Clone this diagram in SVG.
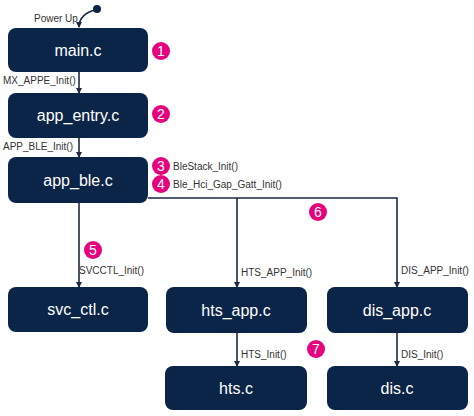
<svg xmlns="http://www.w3.org/2000/svg" width="474" height="416" viewBox="0 0 474 416">
<defs>
<marker id="ah" markerWidth="6" markerHeight="6" refX="5" refY="3" orient="auto" markerUnits="userSpaceOnUse">
<path d="M0,0 L6,3 L0,6 Z" fill="#1b2a44"/>
</marker>
<style>
.box{fill:#0b2548}
.bt{font-family:"Liberation Sans",Arial,sans-serif;font-size:16px;fill:#ffffff;text-anchor:middle}
.lbl{font-family:"Liberation Sans",Arial,sans-serif;font-size:10px;fill:#333333}
.bd{fill:#e5007d}
.bn{font-family:"Liberation Sans",Arial,sans-serif;font-size:14px;fill:#ffffff;text-anchor:middle}
.ln{stroke:#1b2a44;stroke-width:1.6;fill:none}
</style>
</defs>
<rect width="474" height="416" fill="#ffffff"/>
<g id="connectors">
<circle cx="97" cy="9" r="4" fill="#0b2548"/>
<path class="ln" d="M95,10 C86,12 79,18 79,27" marker-end="url(#ah)"/>
<line class="ln" x1="79" y1="72" x2="79" y2="93" marker-end="url(#ah)"/>
<line class="ln" x1="79" y1="138" x2="79" y2="157" marker-end="url(#ah)"/>
<line class="ln" x1="79" y1="203" x2="79" y2="287" marker-end="url(#ah)"/>
<polyline class="ln" points="148,198 397,198 397,287" marker-end="url(#ah)"/>
<line class="ln" x1="237" y1="198" x2="237" y2="287" marker-end="url(#ah)"/>
<line class="ln" x1="237" y1="333" x2="237" y2="366" marker-end="url(#ah)"/>
<line class="ln" x1="397" y1="333" x2="397" y2="366" marker-end="url(#ah)"/>
<text class="lbl" x="34" y="22">Power Up</text>
<text class="lbl" x="3" y="84">MX_APPE_Init()</text>
<text class="lbl" x="3" y="150">APP_BLE_Init()</text>
<text class="lbl" x="173" y="170">BleStack_Init()</text>
<text class="lbl" x="173" y="188">Ble_Hci_Gap_Gatt_Init()</text>
<text class="lbl" x="79" y="274">SVCCTL_Init()</text>
<text class="lbl" x="241" y="276">HTS_APP_Init()</text>
<text class="lbl" x="401" y="274">DIS_APP_Init()</text>
<text class="lbl" x="241" y="358">HTS_Init()</text>
<text class="lbl" x="401" y="358">DIS_Init()</text>
</g>
<g id="main"><rect class="box" x="8" y="28" width="140" height="44" rx="8"/><text class="bt" x="78" y="56">main.c</text></g>
<g id="app_entry"><rect class="box" x="8" y="93" width="140" height="45" rx="8"/><text class="bt" x="78" y="121">app_entry.c</text></g>
<g id="app_ble"><rect class="box" x="8" y="157" width="140" height="46" rx="8"/><text class="bt" x="78" y="186">app_ble.c</text></g>
<g id="svc_ctl"><rect class="box" x="8" y="287" width="140" height="45" rx="8"/><text class="bt" x="78" y="315">svc_ctl.c</text></g>
<g id="hts_app"><rect class="box" x="166" y="287" width="141" height="46" rx="8"/><text class="bt" x="236" y="316">hts_app.c</text></g>
<g id="dis_app"><rect class="box" x="327" y="287" width="141" height="46" rx="8"/><text class="bt" x="397" y="316">dis_app.c</text></g>
<g id="hts"><rect class="box" x="165" y="366" width="142" height="44" rx="8"/><text class="bt" x="236" y="394">hts.c</text></g>
<g id="dis"><rect class="box" x="327" y="366" width="141" height="44" rx="8"/><text class="bt" x="397" y="394">dis.c</text></g>
<g id="badges">
<circle class="bd" cx="161" cy="51" r="9"/><text class="bn" x="161" y="56">1</text>
<circle class="bd" cx="161" cy="114" r="9"/><text class="bn" x="161" y="119">2</text>
<circle class="bd" cx="161" cy="166" r="9"/><text class="bn" x="161" y="171">3</text>
<circle class="bd" cx="161" cy="184" r="9"/><text class="bn" x="161" y="189">4</text>
<circle class="bd" cx="93" cy="250" r="9"/><text class="bn" x="93" y="255">5</text>
<circle class="bd" cx="318" cy="212" r="9"/><text class="bn" x="318" y="217">6</text>
<circle class="bd" cx="316" cy="349" r="9"/><text class="bn" x="316" y="354">7</text>
</g>
</svg>
